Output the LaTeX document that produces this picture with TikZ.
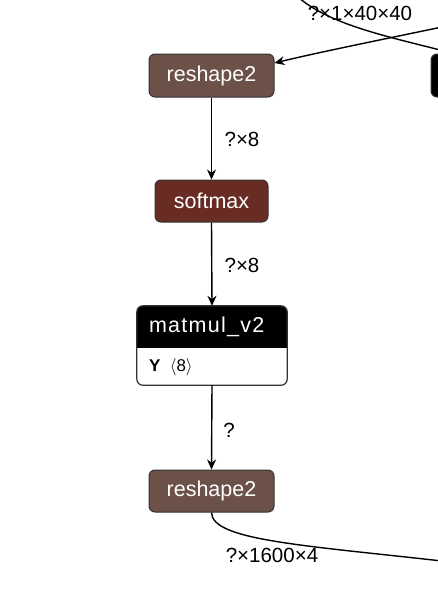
\documentclass[tikz,border=0pt]{standalone}
\usepackage{fontspec}
\setmainfont{Liberation Sans}
\newfontfamily\widesans[LetterSpace=6]{Liberation Sans}
\usetikzlibrary{arrows.meta}
\definecolor{reshapecol}{RGB}{108,81,72}
\definecolor{softcol}{RGB}{104,44,36}
\definecolor{bordercol}{RGB}{51,51,51}
\begin{document}
\begin{tikzpicture}[x=1pt,y=-1pt,
  opbox/.style={draw=bordercol, line width=1pt, rounded corners=6pt, text=white, inner sep=0pt, font=\fontsize{21.5}{24}\selectfont},
  edge/.style={line width=1.4pt, -{Stealth[length=10pt,width=9pt]}},
  plain/.style={line width=1.4pt},
  lbl/.style={font=\fontsize{20.5}{23}\selectfont, inner sep=0pt}]
\useasboundingbox (0,0) rectangle (438,608);
\fill[white] (0,0) rectangle (438,608);

\node[opbox, fill=reshapecol, minimum width=125pt, minimum height=43pt] (rA) at (211.5,75.5) {reshape2};
\node[opbox, fill=softcol, minimum width=113pt, minimum height=42pt] (sm) at (211.5,201) {softmax};

% matmul node
\node[minimum width=150pt, minimum height=79pt, inner sep=0pt] (mm) at (212,345.5) {};
\begin{scope}
\clip[rounded corners=6pt] (mm.north west) rectangle (mm.south east);
\fill[black] (mm.north west) rectangle ([yshift=-42pt]mm.north east);
\end{scope}
\draw[bordercol, line width=1.2pt, rounded corners=6pt] (mm.north west) rectangle (mm.south east);
\node[anchor=west, text=white, inner sep=0pt, font=\widesans\fontsize{21.5}{24}\selectfont] (mmt) at ([xshift=12pt,yshift=-21pt]mm.north west) {matmul\_v2};
\node[anchor=west, inner sep=0pt, font=\fontsize{17}{20}\selectfont] (mmy) at ([xshift=12pt,yshift=18.5pt]mm.south west) {\textbf{Y}\ \ $\langle$8$\rangle$};

\node[opbox, fill=reshapecol, minimum width=125pt, minimum height=42pt] (rB) at (211.5,491) {reshape2};

% partial black node at right
\node[draw=bordercol, fill=black, line width=1pt, rounded corners=6pt, minimum width=40pt, minimum height=43pt, inner sep=0pt] (blk) at (451,75.5) {};

\coordinate (e1s) at (442,27);
\coordinate (e2s) at (298,-3);
\coordinate (e2e) at (440,50);
\coordinate (e3e) at (442,561);

\draw[edge] (e1s) .. controls (380,40) and (320,52) .. (rA.north east |- 0,63);
\draw[plain] (e2s) .. controls (330,25) and (390,37) .. (e2e);
\node[lbl] (l0) at (360,13) {?×1×40×40};

\draw[edge] (rA.south) -- (sm.north);
\node[lbl] (l1) at (242,139) {?×8};
\draw[edge] (sm.south) -- (mm.north);
\node[lbl] (l2) at (242,265) {?×8};
\draw[edge] (mm.south) -- (rB.north);
\node[lbl] (l3) at (229,430) {?};
\draw[plain] (rB.south) .. controls (212,540) and (300,545) .. (e3e);
\node[lbl] (l4) at (272,555) {?×1600×4};
\end{tikzpicture}
\end{document}
